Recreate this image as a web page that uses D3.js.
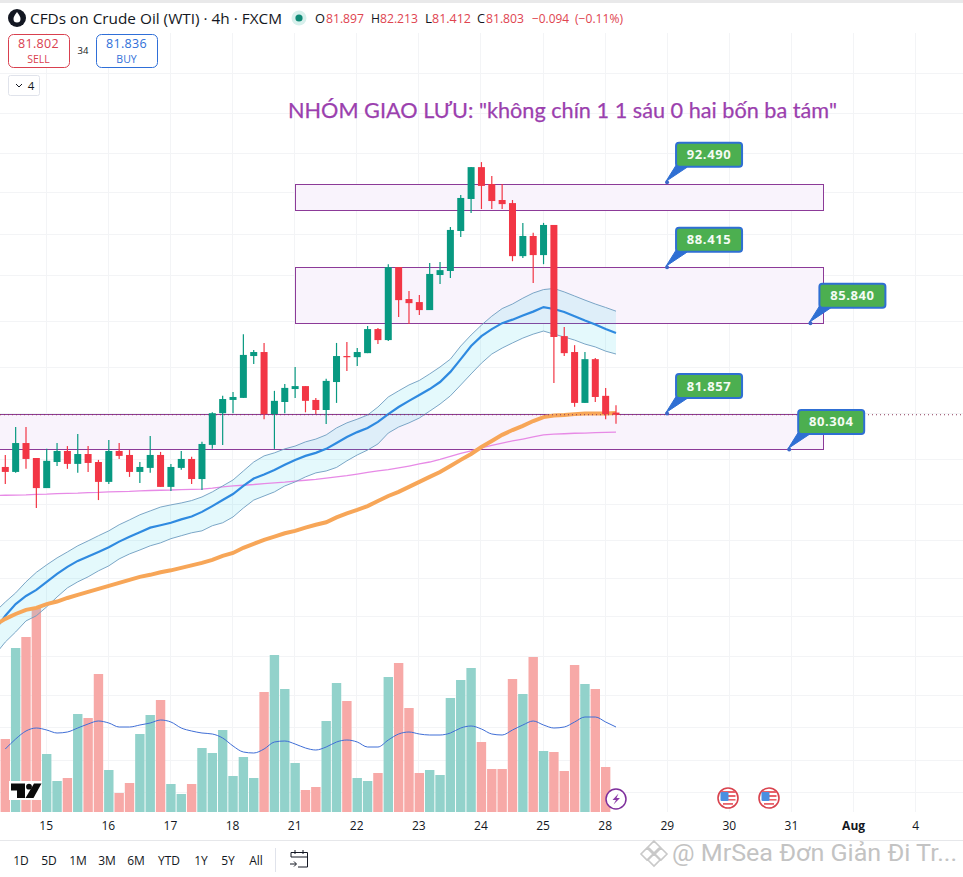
<!DOCTYPE html>
<html><head><meta charset="utf-8">
<script src="https://cdn.jsdelivr.net/npm/d3@7"></script>
<style>html,body{margin:0;padding:0;background:#fff}svg{display:block}text{font-family:"Open Sans",sans-serif}</style>
</head><body><div id="c"></div>
<script>
const opens=[79.56,79.35,80.58,79.94,78.67,79.77,80.24,79.69,80.11,79.77,78.93,80.24,80.07,79.35,79.52,80.07,78.72,79.52,79.90,79.05,80.50,81.87,82.45,82.54,84.40,84.58,81.83,82.36,82.93,83.06,82.45,82.01,83.24,84.40,84.35,84.53,85.62,85.12,88.49,87.00,86.86,86.49,88.12,88.31,90.21,91.76,93.33,92.49,91.71,91.56,89.01,89.97,89.06,90.50,85.30,84.58,82.32,84.26,82.63,81.897];
const closes=[79.35,80.58,79.90,78.67,79.82,80.24,79.69,80.11,79.73,78.93,80.24,80.03,79.35,79.56,80.07,78.72,79.56,79.90,79.05,80.54,81.87,82.49,82.58,84.45,84.58,81.83,82.41,82.98,83.06,82.41,82.01,83.29,84.40,84.35,84.58,85.62,85.12,88.49,86.95,86.81,86.49,88.17,88.35,90.26,91.81,93.33,92.40,91.66,91.51,89.01,89.97,89.06,90.50,85.26,84.53,82.32,84.26,82.58,81.83,81.803];
const highs=[80.07,81.27,81.27,79.94,80.33,80.58,80.45,80.97,80.45,79.86,80.71,80.58,80.28,79.77,80.88,80.20,79.69,80.24,79.99,80.63,81.91,82.63,82.80,85.39,84.67,84.99,82.85,83.15,83.91,83.06,82.54,83.38,84.99,85.03,84.76,85.76,85.67,88.63,88.49,87.37,87.19,88.68,88.73,90.40,91.95,93.33,93.58,92.89,92.49,91.71,90.60,90.12,90.60,90.50,85.71,84.89,84.58,84.31,82.98,82.213];
const lows=[78.84,79.31,79.48,77.84,78.67,79.60,79.48,79.31,79.35,78.17,78.84,79.90,79.14,78.88,79.31,78.72,78.55,79.44,78.84,78.59,80.33,80.50,81.87,82.54,84.04,81.61,80.33,81.87,82.54,81.91,81.83,81.40,82.32,83.73,83.95,84.53,84.94,85.08,86.17,85.85,86.26,86.49,87.70,87.98,89.92,91.08,91.27,91.27,91.27,88.77,88.92,87.75,88.63,83.20,84.40,82.15,82.32,82.36,81.61,81.412];
const volumes=[73,164,175,204,58,31,34,98,94,138,42,19,29,78,97,112,28,18,28,64,59,82,36,55,34,120,157,123,49,22,25,91,129,111,34,31,39,135,149,104,39,42,37,114,132,144,70,43,43,133,118,155,61,60,41,147,128,123,45,0];
const volumeMA=[63,73,81,84,82,79,80,84,88,91,89,85,85,87,89,92,90,84,81,79,78,74,66,60,59,63,70,71,68,64,62,65,70,72,70,65,65,72,78,80,78,77,77,79,84,86,83,78,77,82,87,91,87,84,85,90,95,95,90,85];
/* overlay series start one 4h bar before the first visible candle */
const bandMid=[72.95,73.50,73.96,74.28,74.52,74.84,75.16,75.44,75.68,75.86,76.04,76.23,76.46,76.66,76.84,77.03,77.13,77.23,77.37,77.49,77.68,77.92,78.17,78.42,78.76,79.07,79.24,79.43,79.65,79.86,80.03,80.16,80.33,80.58,80.84,81.05,81.23,81.49,81.83,82.14,82.41,82.67,82.93,83.24,83.69,84.26,84.85,85.30,85.62,85.89,86.05,86.24,86.42,86.63,86.54,86.40,86.21,86.01,85.83,85.62,85.44];
const bandUpper=[73.65,74.04,74.40,74.84,75.22,75.52,75.80,76.04,76.29,76.49,76.70,76.90,77.15,77.35,77.56,77.72,77.88,77.97,78.05,78.15,78.30,78.51,78.76,79.01,79.39,79.77,80.03,80.16,80.33,80.45,80.63,80.75,80.93,81.23,81.45,81.61,81.79,82.14,82.58,82.85,83.11,83.31,83.60,83.91,84.26,84.85,85.35,85.80,86.21,86.56,86.77,87.04,87.28,87.44,87.49,87.33,87.14,86.95,86.77,86.61,86.44];
const bandLower=[71.99,72.48,72.87,73.30,73.50,73.85,74.24,74.60,74.84,75.04,75.28,75.48,75.76,75.96,76.12,76.29,76.41,76.58,76.70,76.82,76.90,77.11,77.23,77.47,77.84,78.17,78.34,78.51,78.76,78.93,79.14,79.31,79.39,79.54,79.82,80.07,80.28,80.54,81.01,81.27,81.45,81.66,81.96,82.27,82.63,83.11,83.60,84.08,84.49,84.76,84.99,85.21,85.39,85.53,85.39,85.26,85.12,84.94,84.81,84.62,84.49];
const emaOrange=[73.14,73.38,73.57,73.73,73.81,73.96,74.06,74.20,74.32,74.44,74.56,74.68,74.80,74.92,75.04,75.12,75.22,75.30,75.40,75.50,75.60,75.72,75.88,76.00,76.21,76.37,76.53,76.66,76.80,76.90,77.03,77.15,77.25,77.45,77.62,77.76,77.92,78.13,78.34,78.51,78.72,78.93,79.14,79.35,79.60,79.86,80.11,80.41,80.67,80.93,81.14,81.32,81.53,81.70,81.77,81.79,81.83,81.86,81.86,81.86,81.88];
const maPink=[78.36,78.37,78.38,78.39,78.41,78.42,78.44,78.45,78.46,78.48,78.49,78.51,78.52,78.53,78.55,78.57,78.58,78.59,78.61,78.62,78.63,78.67,78.72,78.76,78.79,78.82,78.86,78.89,78.92,78.96,79.00,79.04,79.09,79.14,79.19,79.26,79.33,79.39,79.45,79.52,79.60,79.69,79.77,79.88,80.01,80.14,80.24,80.37,80.48,80.58,80.67,80.75,80.84,80.93,80.96,80.98,81.00,81.01,81.03,81.04,81.05];
const zoneStart=[28,28,-2];
const zoneEnd=[79,79,79];
const zoneTop=[92.49,88.49,81.857];
const zoneBottom=[91.22,85.89,80.304];
const calloutLabels=["92.490","88.415","85.840","81.857","80.304"];
const calloutPrice=[92.58,88.49,85.89,81.857,80.304];
const calloutBar=[64,64,77.85,64,75.8];
const tickBars=[4,10,16,22,28,34,40,46,52,58,64,70,76,82,88];
const tickLabels=["15","16","17","18","21","22","23","24","25","28","29","30","31","Aug","4"];
const rangeLabels=["1D","5D","1M","3M","6M","YTD","1Y","5Y","All"];
const lastPrice=81.803;

const W=963,H=877,GREEN="#089981",RED="#f23645";
const svg=d3.select("#c").append("svg").attr("width",W).attr("height",H).attr("viewBox",`0 0 ${W} ${H}`);
const x=d3.scaleLinear().domain([0,59]).range([5.3,616]);
const y=d3.scaleLog().domain([81.857,92.49]).range([413.5,184.1]);
const v=d3.scaleLinear().domain([0,204]).range([812,608]);
const bars=d3.range(60), lineBars=d3.range(-1,60);

svg.append("rect").attr("width",W).attr("height",3).attr("fill","#e9e9ea");

// grid
const grid=svg.append("g").attr("stroke","#f3f4f6").attr("stroke-width",1);
grid.selectAll("line.v").data(tickBars).join("line").attr("class","v")
  .attr("x1",d=>Math.round(x(d))-.5).attr("x2",d=>Math.round(x(d))-.5).attr("y1",33).attr("y2",812);
[73,113,153,192,234,275,321,367,413,459,504,540,578,616,656,695,727,760,792].forEach(g=>
  grid.append("line").attr("x1",0).attr("x2",W).attr("y1",g+.5).attr("y2",g+.5));
svg.append("line").attr("x1",0).attr("x2",W).attr("y1",840.5).attr("y2",840.5).attr("stroke","#e6e7ea");

// zones
svg.append("g").selectAll("rect").data(zoneTop).join("rect")
  .attr("x",(d,i)=>Math.round(x(zoneStart[i]))+.5)
  .attr("width",(d,i)=>Math.round(x(zoneEnd[i]))-Math.round(x(zoneStart[i])))
  .attr("y",d=>Math.round(y(d))+.5)
  .attr("height",(d,i)=>Math.round(y(zoneBottom[i]))-Math.round(y(d)))
  .attr("fill","#f9f3fc").attr("stroke","#8c3a98").attr("stroke-width",1);

// volume
svg.append("g").selectAll("rect").data(bars).join("rect")
  .attr("x",i=>x(i)-4.7).attr("width",9.4)
  .attr("y",i=>v(volumes[i])).attr("height",i=>v(0)-v(volumes[i]))
  .attr("fill",i=>closes[i]>=opens[i]?"#92d2cb":"#f7a9a7");
svg.append("path").attr("d",d3.line().x(i=>x(i)).y(i=>v(volumeMA[i])).curve(d3.curveMonotoneX)(bars))
  .attr("fill","none").attr("stroke","#3f6ed6").attr("stroke-width",1);

// overlays
svg.append("path").attr("d",d3.area().x(i=>x(i)).y0(i=>y(bandLower[i+1])).y1(i=>y(bandUpper[i+1]))(lineBars))
  .attr("fill","#22cbe8").attr("fill-opacity",.12);
const ln=(arr)=>d3.line().x(i=>x(i)).y(i=>y(arr[i+1]))(lineBars);
svg.append("path").attr("d",ln(maPink)).attr("fill","none").attr("stroke","#e78ae6").attr("stroke-width",1.3);
svg.append("path").attr("d",ln(bandUpper)).attr("fill","none").attr("stroke","#6d9cc0").attr("stroke-width",.9);
svg.append("path").attr("d",ln(bandLower)).attr("fill","none").attr("stroke","#6d9cc0").attr("stroke-width",.9);
svg.append("path").attr("d",ln(bandMid)).attr("fill","none").attr("stroke","#2f8ae0").attr("stroke-width",2.2);
svg.append("path").attr("d",ln(emaOrange)).attr("fill","none").attr("stroke","#f7a658").attr("stroke-width",4);

// last price dotted line
svg.append("line").attr("x1",0).attr("x2",W).attr("y1",y(lastPrice)).attr("y2",y(lastPrice))
  .attr("stroke","#8c3a5a").attr("stroke-width",1).attr("stroke-dasharray","1 3");

// candles
const cg=svg.append("g").selectAll("g").data(bars).join("g");
const col=i=>closes[i]>=opens[i]?GREEN:RED;
cg.append("line").attr("x1",i=>x(i)).attr("x2",i=>x(i)).attr("y1",i=>y(highs[i])).attr("y2",i=>y(lows[i]))
  .attr("stroke",col).attr("stroke-width",1.2);
cg.append("rect").attr("x",i=>x(i)-3.5).attr("width",7)
  .attr("y",i=>y(Math.max(opens[i],closes[i])))
  .attr("height",i=>Math.max(1.2,Math.abs(y(opens[i])-y(closes[i]))))
  .attr("fill",col);

// callouts
const cal=svg.append("g").selectAll("g").data(calloutLabels).join("g")
  .attr("transform",(d,i)=>`translate(${x(calloutBar[i])-.7},${y(calloutPrice[i])})`);
cal.append("path").attr("d","M-1,-1 L9,-17 L20,-15 Z").attr("fill","#2f6fd3").attr("stroke","#2f6fd3");
cal.append("circle").attr("r",2).attr("fill","#3d68c9");
cal.append("rect").attr("x",9).attr("y",-39.5).attr("width",66).attr("height",24).attr("rx",3)
  .attr("fill","#4caf50").attr("stroke","#2f6fd3").attr("stroke-width",2);
cal.append("text").attr("x",42).attr("y",-23).attr("text-anchor","middle").attr("fill","#f4fbf4")
  .attr("font-size",13).attr("font-weight",700).attr("letter-spacing",.6).text(d=>d);

// title
svg.append("text").attr("x",288).attr("y",118).attr("font-size",21.5).attr("fill","#9b3fae")
  .attr("stroke","#9b3fae").attr("stroke-width",.25)
  .style("font-family","Lato, sans-serif").attr("textLength",549).attr("lengthAdjust","spacingAndGlyphs")
  .text('NHÓM GIAO LƯU: "không chín 1 1 sáu 0 hai bốn ba tám"');

// header
svg.append("circle").attr("cx",17).attr("cy",18).attr("r",9).attr("fill","#131722");
svg.append("path").attr("d","M17,12 C14.5,15.5 13.5,17 13.5,19 A3.5,3.6 0 0 0 20.5,19 C20.5,17 19.5,15.5 17,12 Z").attr("fill","#fff");
svg.append("text").attr("x",30).attr("y",23.5).attr("font-size",14).attr("fill","#131722")
  .attr("textLength",252).attr("lengthAdjust","spacingAndGlyphs").text("CFDs on Crude Oil (WTI) · 4h · FXCM");
svg.append("circle").attr("cx",299).attr("cy",18).attr("r",7.5).attr("fill","#d7f0ec");
svg.append("circle").attr("cx",299).attr("cy",18).attr("r",3.6).attr("fill","#0f8a76");
[["O",315,"#131722",10],["81.897",326,RED,38],["H",371,"#131722",9],["82.213",380,RED,38],["L",425,"#131722",7],["81.412",432,RED,39],["C",477,"#131722",8],["81.803",486,RED,38],["−0.094",532,RED,37],["(−0.11%)",575,RED,48]]
 .forEach(t=>svg.append("text").attr("x",t[1]).attr("y",23).attr("font-size",12).attr("fill",t[2]==RED?"#e0444f":t[2])
   .attr("textLength",t[3]).attr("lengthAdjust","spacingAndGlyphs").text(t[0]));

function btn(xx,w,c,a,b){
  svg.append("rect").attr("x",xx+.5).attr("y",34.5).attr("width",w).attr("height",33).attr("rx",5).attr("fill","#fff").attr("stroke",c);
  svg.append("text").attr("x",xx+w/2).attr("y",48).attr("text-anchor","middle").attr("font-size",12.5).attr("fill",c).attr("letter-spacing",.3).text(a);
  svg.append("text").attr("x",xx+w/2).attr("y",63).attr("text-anchor","middle").attr("font-size",10.5).attr("fill",c).text(b);
}
btn(8,61,"#d9404f","81.802","SELL");
btn(96,61,"#2f6fd8","81.836","BUY");
svg.append("text").attr("x",83).attr("y",54).attr("text-anchor","middle").attr("font-size",9.5).attr("fill","#131722").text("34");
svg.append("rect").attr("x",8.5).attr("y",75.5).attr("width",31).attr("height",20).attr("rx",2).attr("fill","#fff").attr("stroke","#e0e3eb");
svg.append("path").attr("d","M16,84 L19,87 L22,84").attr("fill","none").attr("stroke","#131722").attr("stroke-width",1);
svg.append("text").attr("x",31).attr("y",90).attr("text-anchor","middle").attr("font-size",11.5).attr("fill","#131722").text("4");

// TV logo
const tv=svg.append("g").attr("transform","translate(10,782)");
tv.append("rect").attr("x",-1).attr("y",-1).attr("width",33).attr("height",19).attr("fill","#fff");
tv.append("path").attr("d","M1,1.5 H15 V16 H7 V8.5 H1 Z").attr("fill","#0b0b0b");
tv.append("circle").attr("cx",19).attr("cy",4.7).attr("r",2.9).attr("fill","#0b0b0b");
tv.append("path").attr("d","M24,1.5 H31.5 L23.5,16 H15.5 Z").attr("fill","#0b0b0b");

// time axis
const axis=svg.append("g").attr("transform","translate(-1,812)")
  .call(d3.axisBottom(x).tickValues(tickBars).tickSize(0).tickPadding(9).tickFormat((d,i)=>tickLabels[i]));
axis.select(".domain").remove();
axis.selectAll("text").attr("font-size",12).attr("fill","#131722").style("font-family",'"Open Sans",sans-serif')
  .attr("font-weight",(d,i)=>tickLabels[i]==="Aug"?700:400);

// flash + events
svg.append("circle").attr("cx",616).attr("cy",799).attr("r",10).attr("fill","#fff").attr("stroke","#7e2f9c").attr("stroke-width",1.5);
svg.append("path").attr("d","M618.5,793.5 L612.5,800 H616 L613.5,804.5 L620,798 H616.5 Z").attr("fill","#8b3aa8");
[728,769].forEach(cx=>{
  const g=svg.append("g").attr("transform",`translate(${cx},798)`);
  g.append("circle").attr("r",10).attr("fill","#fff").attr("stroke","#d9434e").attr("stroke-width",1.6);
  g.append("rect").attr("x",-7).attr("y",-7).attr("width",14).attr("height",2).attr("fill","#e8636b");
  g.append("rect").attr("x",0).attr("y",-3).attr("width",7.5).attr("height",2).attr("fill","#e8636b");
  g.append("rect").attr("x",0).attr("y",1).attr("width",7.5).attr("height",1.6).attr("fill","#e8636b");
  g.append("rect").attr("x",-5).attr("y",5).attr("width",10).attr("height",1.8).attr("fill","#e8636b");
  g.append("rect").attr("x",-7.5).attr("y",-6).attr("width",8).attr("height",9).attr("rx",1).attr("fill","#4a8fe0");
});

// range toolbar
const rx=[21,49,78,107,136,169,201,228,256];
svg.append("g").selectAll("text").data(rangeLabels).join("text")
  .attr("x",(d,i)=>rx[i]).attr("y",865).attr("text-anchor","middle").attr("font-size",12).attr("fill","#131722").text(d=>d);
svg.append("line").attr("x1",275.5).attr("x2",275.5).attr("y1",848).attr("y2",872).attr("stroke","#e0e3eb");
svg.append("path").attr("d","M291,857 V852.5 H307.5 V867 H298 M291,857 H307.5 M295,850 V854 M303,850 V854 M290,864 H296 M294,861.5 L296.5,864 L294,866.5")
  .attr("fill","none").attr("stroke","#131722").attr("stroke-width",1);

// watermark
const wm=svg.append("g").attr("fill","none").attr("stroke","#c9c9c9").attr("stroke-width",2);
wm.append("path").attr("d","M654,841 L660,847 L654,853 L648,847 Z M654,854 L660,860 L654,866 L648,860 Z M647,848 L653,854 L647,860 L641,854 Z M661,848 L667,854 L661,860 L655,854 Z").attr("stroke-width",1.6);
svg.append("text").attr("x",672).attr("y",861).attr("font-size",24).attr("fill","#c3c3c3")
  .style("font-family","Roboto, sans-serif").attr("textLength",285).attr("lengthAdjust","spacingAndGlyphs")
  .text("@ MrSea Đơn Giản Đi Tr...");
</script></body></html>
